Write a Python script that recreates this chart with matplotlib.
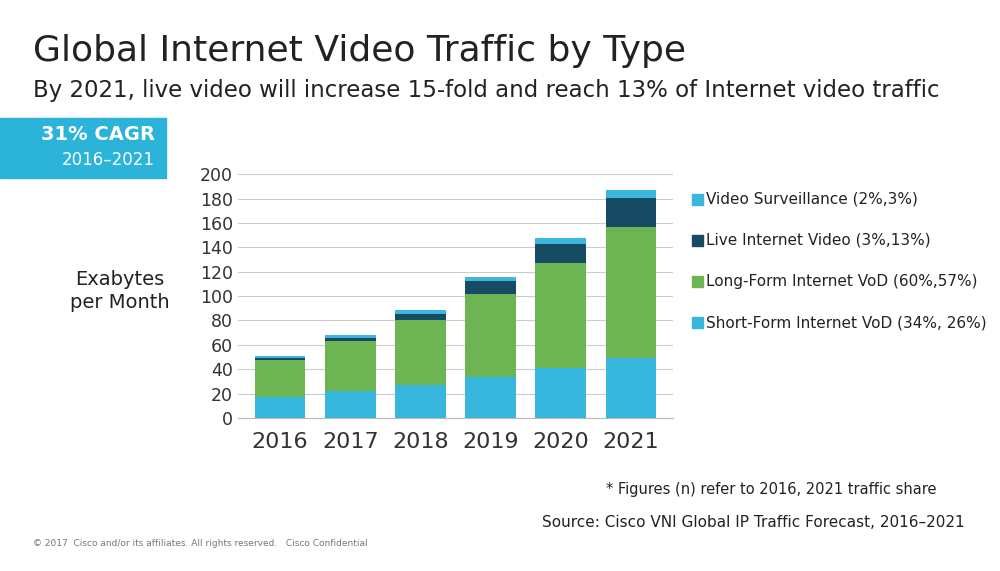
import matplotlib.pyplot as plt
from matplotlib.patches import Rectangle

years = ["2016", "2017", "2018", "2019", "2020", "2021"]
short_form = [17, 22, 27, 34, 41, 49]
long_form = [30.5, 41, 53, 68, 86, 107.5]
live = [2, 2.5, 5, 10, 16, 24]
surveillance = [1, 2.5, 3.5, 3.5, 5, 6.5]

series = [
    ("Short-Form Internet VoD (34%, 26%)", short_form, "#37b7de"),
    ("Long-Form Internet VoD (60%,57%)", long_form, "#6db553"),
    ("Live Internet Video (3%,13%)", live, "#174a63"),
    ("Video Surveillance (2%,3%)", surveillance, "#3cb6dc"),
]

fig = plt.figure(figsize=(10, 5.71), dpi=100)
fig.patch.set_facecolor("white")
ax = fig.add_axes([0.238, 0.268, 0.435, 0.427])

x = range(len(years))
bottom = [0] * len(years)
for name, vals, col in series:
    ax.bar(x, vals, bottom=bottom, width=0.72, color=col, zorder=3)
    bottom = [b + v for b, v in zip(bottom, vals)]

ax.set_ylim(0, 200)
ax.set_yticks(range(0, 201, 20))
ax.set_xlim(-0.6, 5.6)
ax.set_xticks(list(x))
ax.set_xticklabels(years, fontsize=16, color="#333333")
ax.tick_params(axis="y", labelsize=12.5, colors="#333333", length=0)
ax.tick_params(axis="x", length=0, pad=10)
ax.grid(axis="y", color="#cccccc", lw=0.8, zorder=0)
for s in ax.spines.values():
    s.set_visible(False)
ax.spines["bottom"].set_visible(True)
ax.spines["bottom"].set_color("#bbbbbb")

# legend
leg_y = [0.651, 0.579, 0.507, 0.435]
for (name, vals, col), yy in zip(series[::-1], leg_y):
    fig.patches.append(Rectangle((0.692, yy - 0.01), 0.011, 0.02,
                                 transform=fig.transFigure, color=col))
    fig.text(0.706, yy, name, fontsize=11, va="center", color="#222222")

fig.text(0.12, 0.49, "Exabytes\nper Month", fontsize=14, ha="center",
         va="center", color="#222222", linespacing=1.3)

fig.text(0.033, 0.91, "Global Internet Video Traffic by Type", fontsize=26,
         color="#222222", va="center")
fig.text(0.033, 0.842, "By 2021, live video will increase 15-fold and reach 13% of Internet video traffic",
         fontsize=16.5, color="#222222", va="center")

fig.patches.append(Rectangle((0, 0.688), 0.166, 0.105,
                             transform=fig.transFigure, color="#2bb3d9"))
fig.text(0.155, 0.765, "31% CAGR", fontsize=14, fontweight="bold",
         color="white", ha="right", va="center")
fig.text(0.155, 0.72, "2016\u20132021", fontsize=12, color="white",
         ha="right", va="center")

fig.text(0.937, 0.142, "* Figures (n) refer to 2016, 2021 traffic share",
         fontsize=10.5, ha="right", va="center", color="#222222")
fig.text(0.965, 0.085, "Source: Cisco VNI Global IP Traffic Forecast, 2016\u20132021",
         fontsize=11, ha="right", va="center", color="#222222")
fig.text(0.033, 0.048, "\u00a9 2017  Cisco and/or its affiliates. All rights reserved.   Cisco Confidential",
         fontsize=6.5, va="center", color="#777777")

fig.savefig("out.png", dpi=100)
